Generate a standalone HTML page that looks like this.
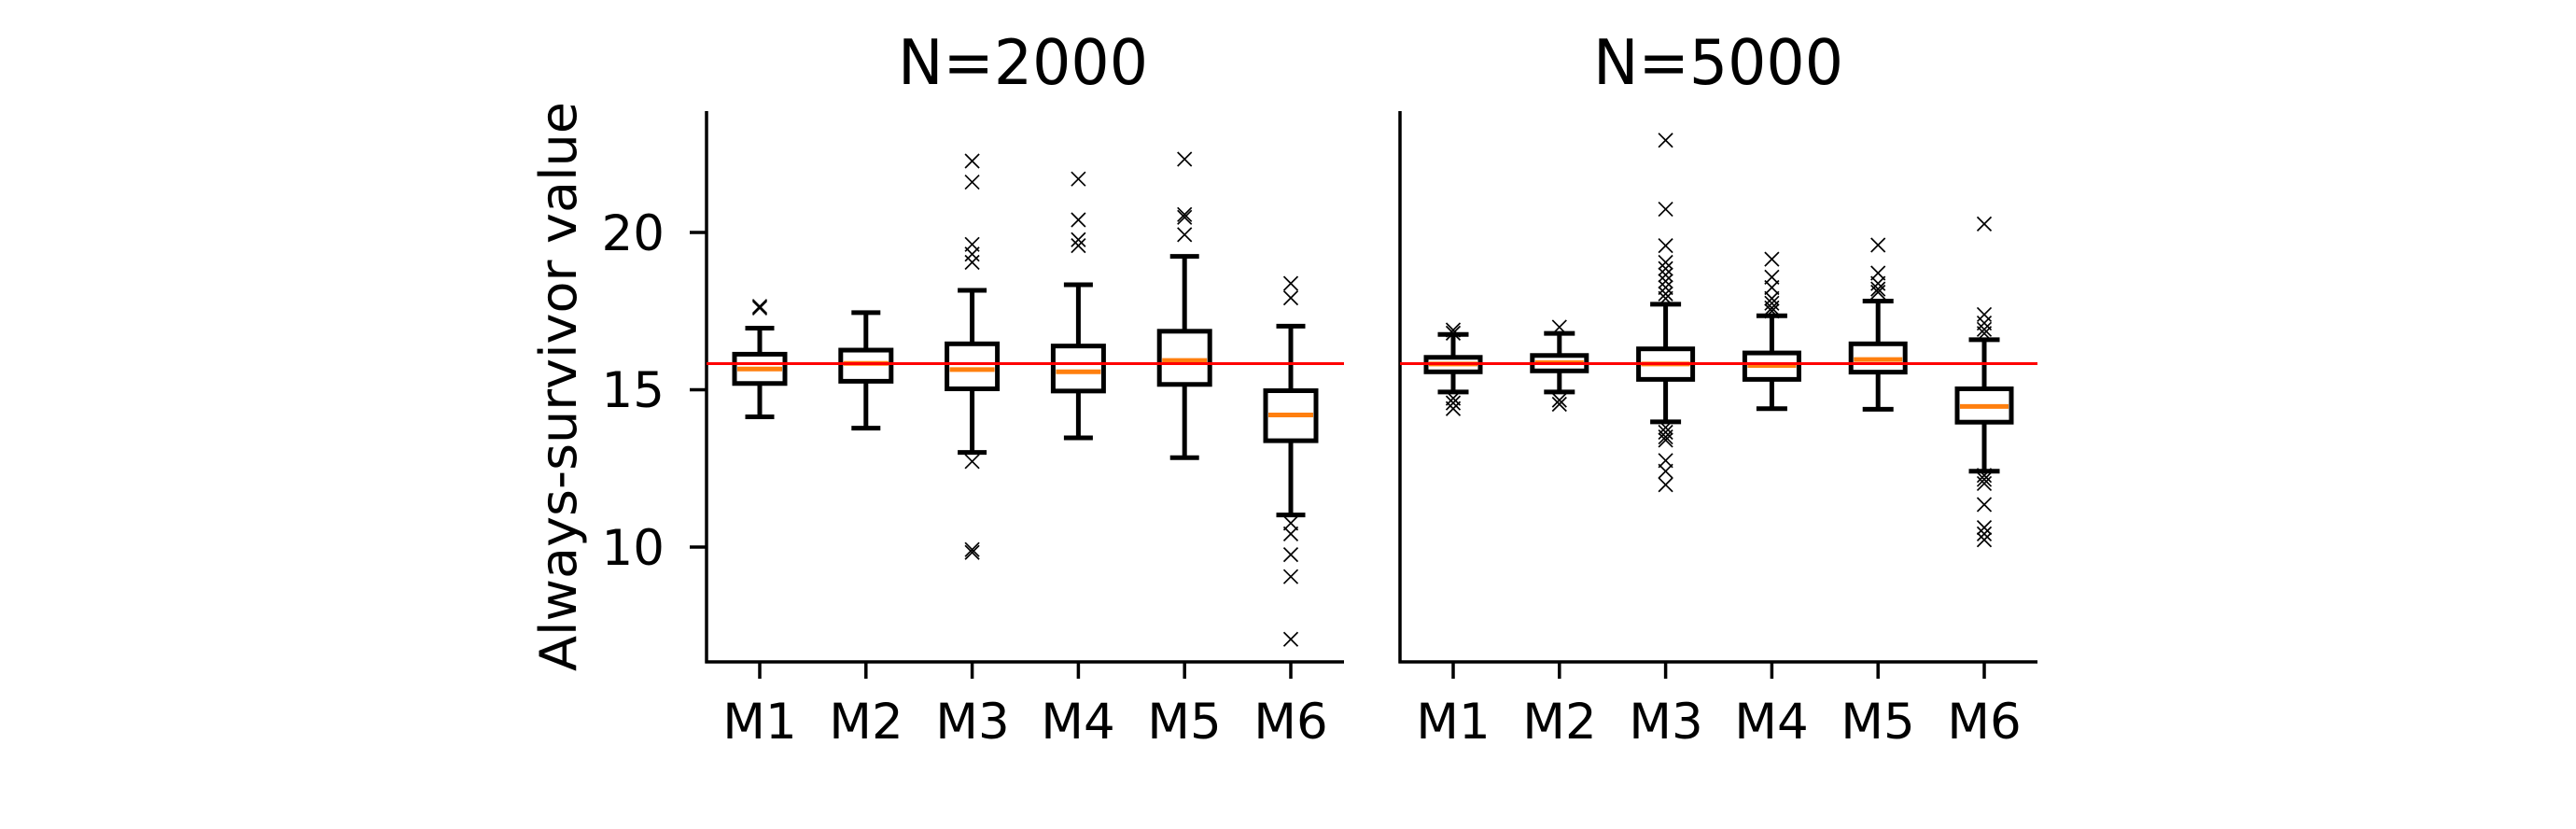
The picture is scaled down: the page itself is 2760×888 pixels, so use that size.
<!DOCTYPE html>
<html><head><meta charset="utf-8"><style>
html,body{margin:0;padding:0;background:#fff;}
svg{display:block;}
text{font-family:"DejaVu Sans","Liberation Sans",sans-serif;fill:#000;}
</style></head><body>
<svg id="s" width="2760" height="888" viewBox="0 0 2760 888" xmlns="http://www.w3.org/2000/svg">
<rect width="2760" height="888" fill="#fff"/>
<text x="1096" y="90" font-size="67" text-anchor="middle" textLength="268" lengthAdjust="spacingAndGlyphs">N=2000</text>
<text x="1841" y="90" font-size="67" text-anchor="middle" textLength="268" lengthAdjust="spacingAndGlyphs">N=5000</text>
<text transform="translate(617,414) rotate(-90)" font-size="54" text-anchor="middle" textLength="610" lengthAdjust="spacingAndGlyphs">Always-survivor value</text>
<text x="712" y="268" font-size="53" text-anchor="end">20</text>
<text x="712" y="436" font-size="53" text-anchor="end">15</text>
<text x="712" y="605" font-size="53" text-anchor="end">10</text>
<g font-size="53" text-anchor="middle">
<text x="814" y="791">M1</text><text x="928" y="791">M2</text><text x="1042" y="791">M3</text><text x="1155" y="791">M4</text><text x="1269" y="791">M5</text><text x="1383" y="791">M6</text>
<text x="1557" y="791">M1</text><text x="1671" y="791">M2</text><text x="1785" y="791">M3</text><text x="1898" y="791">M4</text><text x="2012" y="791">M5</text><text x="2126" y="791">M6</text>
</g>
<g id="g"></g>
</svg>
<script>
var Y=function(v){return 249+(20-v)*33.7;};
var out='';
function L(x1,y1,x2,y2,c,w){out+='<line x1="'+x1+'" y1="'+y1+'" x2="'+x2+'" y2="'+y2+'" stroke="'+c+'" stroke-width="'+w+'"/>';}
function axes(x0,x1,ticksY){
 L(x0,119,x0,709+1.5,'#000',3.5);
 L(x0-1.5,709,x1,709,'#000',3.5);
 for(var i=0;i<6;i++){var x=x0+57+i*113.8;L(x,709,x,727,'#000',3.5);}
 if(ticksY){[20,15,10].forEach(function(v){L(x0-18,Y(v),x0,Y(v),'#000',3.5);});}
}
function box(x0,i,d,bw,cw){
 var x=x0+57+i*113.8;
 var wt=d[0],q3=d[1],md=d[2],q1=d[3],wb=d[4];
 L(x,Y(wt),x,Y(q3),'#000',5);L(x,Y(q1),x,Y(wb),'#000',5);
 L(x-cw/2,Y(wt),x+cw/2,Y(wt),'#000',5);L(x-cw/2,Y(wb),x+cw/2,Y(wb),'#000',5);
 out+='<rect x="'+(x-bw/2)+'" y="'+Y(q3)+'" width="'+bw+'" height="'+(Y(q1)-Y(q3))+'" fill="none" stroke="#000" stroke-width="5"/>';
 L(x-bw/2+3,Y(md),x+bw/2-3,Y(md),'#ff7f0e',5);
 (d[5]||[]).forEach(function(v){var y=Y(v),s=7.5;L(x-s,y-s,x+s,y+s,'#000',1.7);L(x-s,y+s,x+s,y-s,'#000',1.7);});
}
var A=[
[16.96,16.13,15.66,15.2,14.14,[17.65,17.6]],
[17.45,16.26,15.84,15.27,13.78,[]],
[18.16,16.46,15.64,15.03,13.01,[22.27,21.6,19.62,19.31,19.05,12.72,9.92,9.83]],
[18.34,16.39,15.57,14.96,13.47,[21.7,20.4,19.77,19.58]],
[19.24,16.86,15.93,15.17,12.84,[22.33,20.57,20.48,19.93]],
[17.02,14.97,14.2,13.38,11.02,[18.38,17.92,10.76,10.42,9.76,9.06,7.07]]];
var B=[
[16.76,16.03,15.82,15.57,14.93,[16.9,16.8,14.73,14.58,14.4]],
[16.79,16.09,15.86,15.6,14.93,[16.99,14.67,14.54]],
[17.72,16.3,15.82,15.33,13.98,[22.93,20.74,19.58,19.05,18.85,18.65,18.45,18.25,18.05,17.9,13.8,13.65,13.5,13.4,12.75,12.41,11.98]],
[17.35,16.17,15.77,15.33,14.4,[19.15,18.58,18.25,17.9,17.75,17.6,17.5]],
[17.82,16.46,15.96,15.56,14.38,[19.6,18.71,18.38,18.2,18.1]],
[16.59,15.03,14.47,13.97,12.41,[20.27,17.39,17.12,16.92,16.79,12.28,12.15,12.02,11.35,10.62,10.42,10.23]]];
axes(757,1440,true);axes(1500,2183,false);
A.forEach(function(d,i){box(757,i,d,54,31);});
B.forEach(function(d,i){box(1500,i,d,58,33);});
L(757,Y(15.83),1440,Y(15.83),'#ff0000',3);
L(1500,Y(15.83),2183,Y(15.83),'#ff0000',3);
document.getElementById('g').innerHTML=out;
</script>
</body></html>
